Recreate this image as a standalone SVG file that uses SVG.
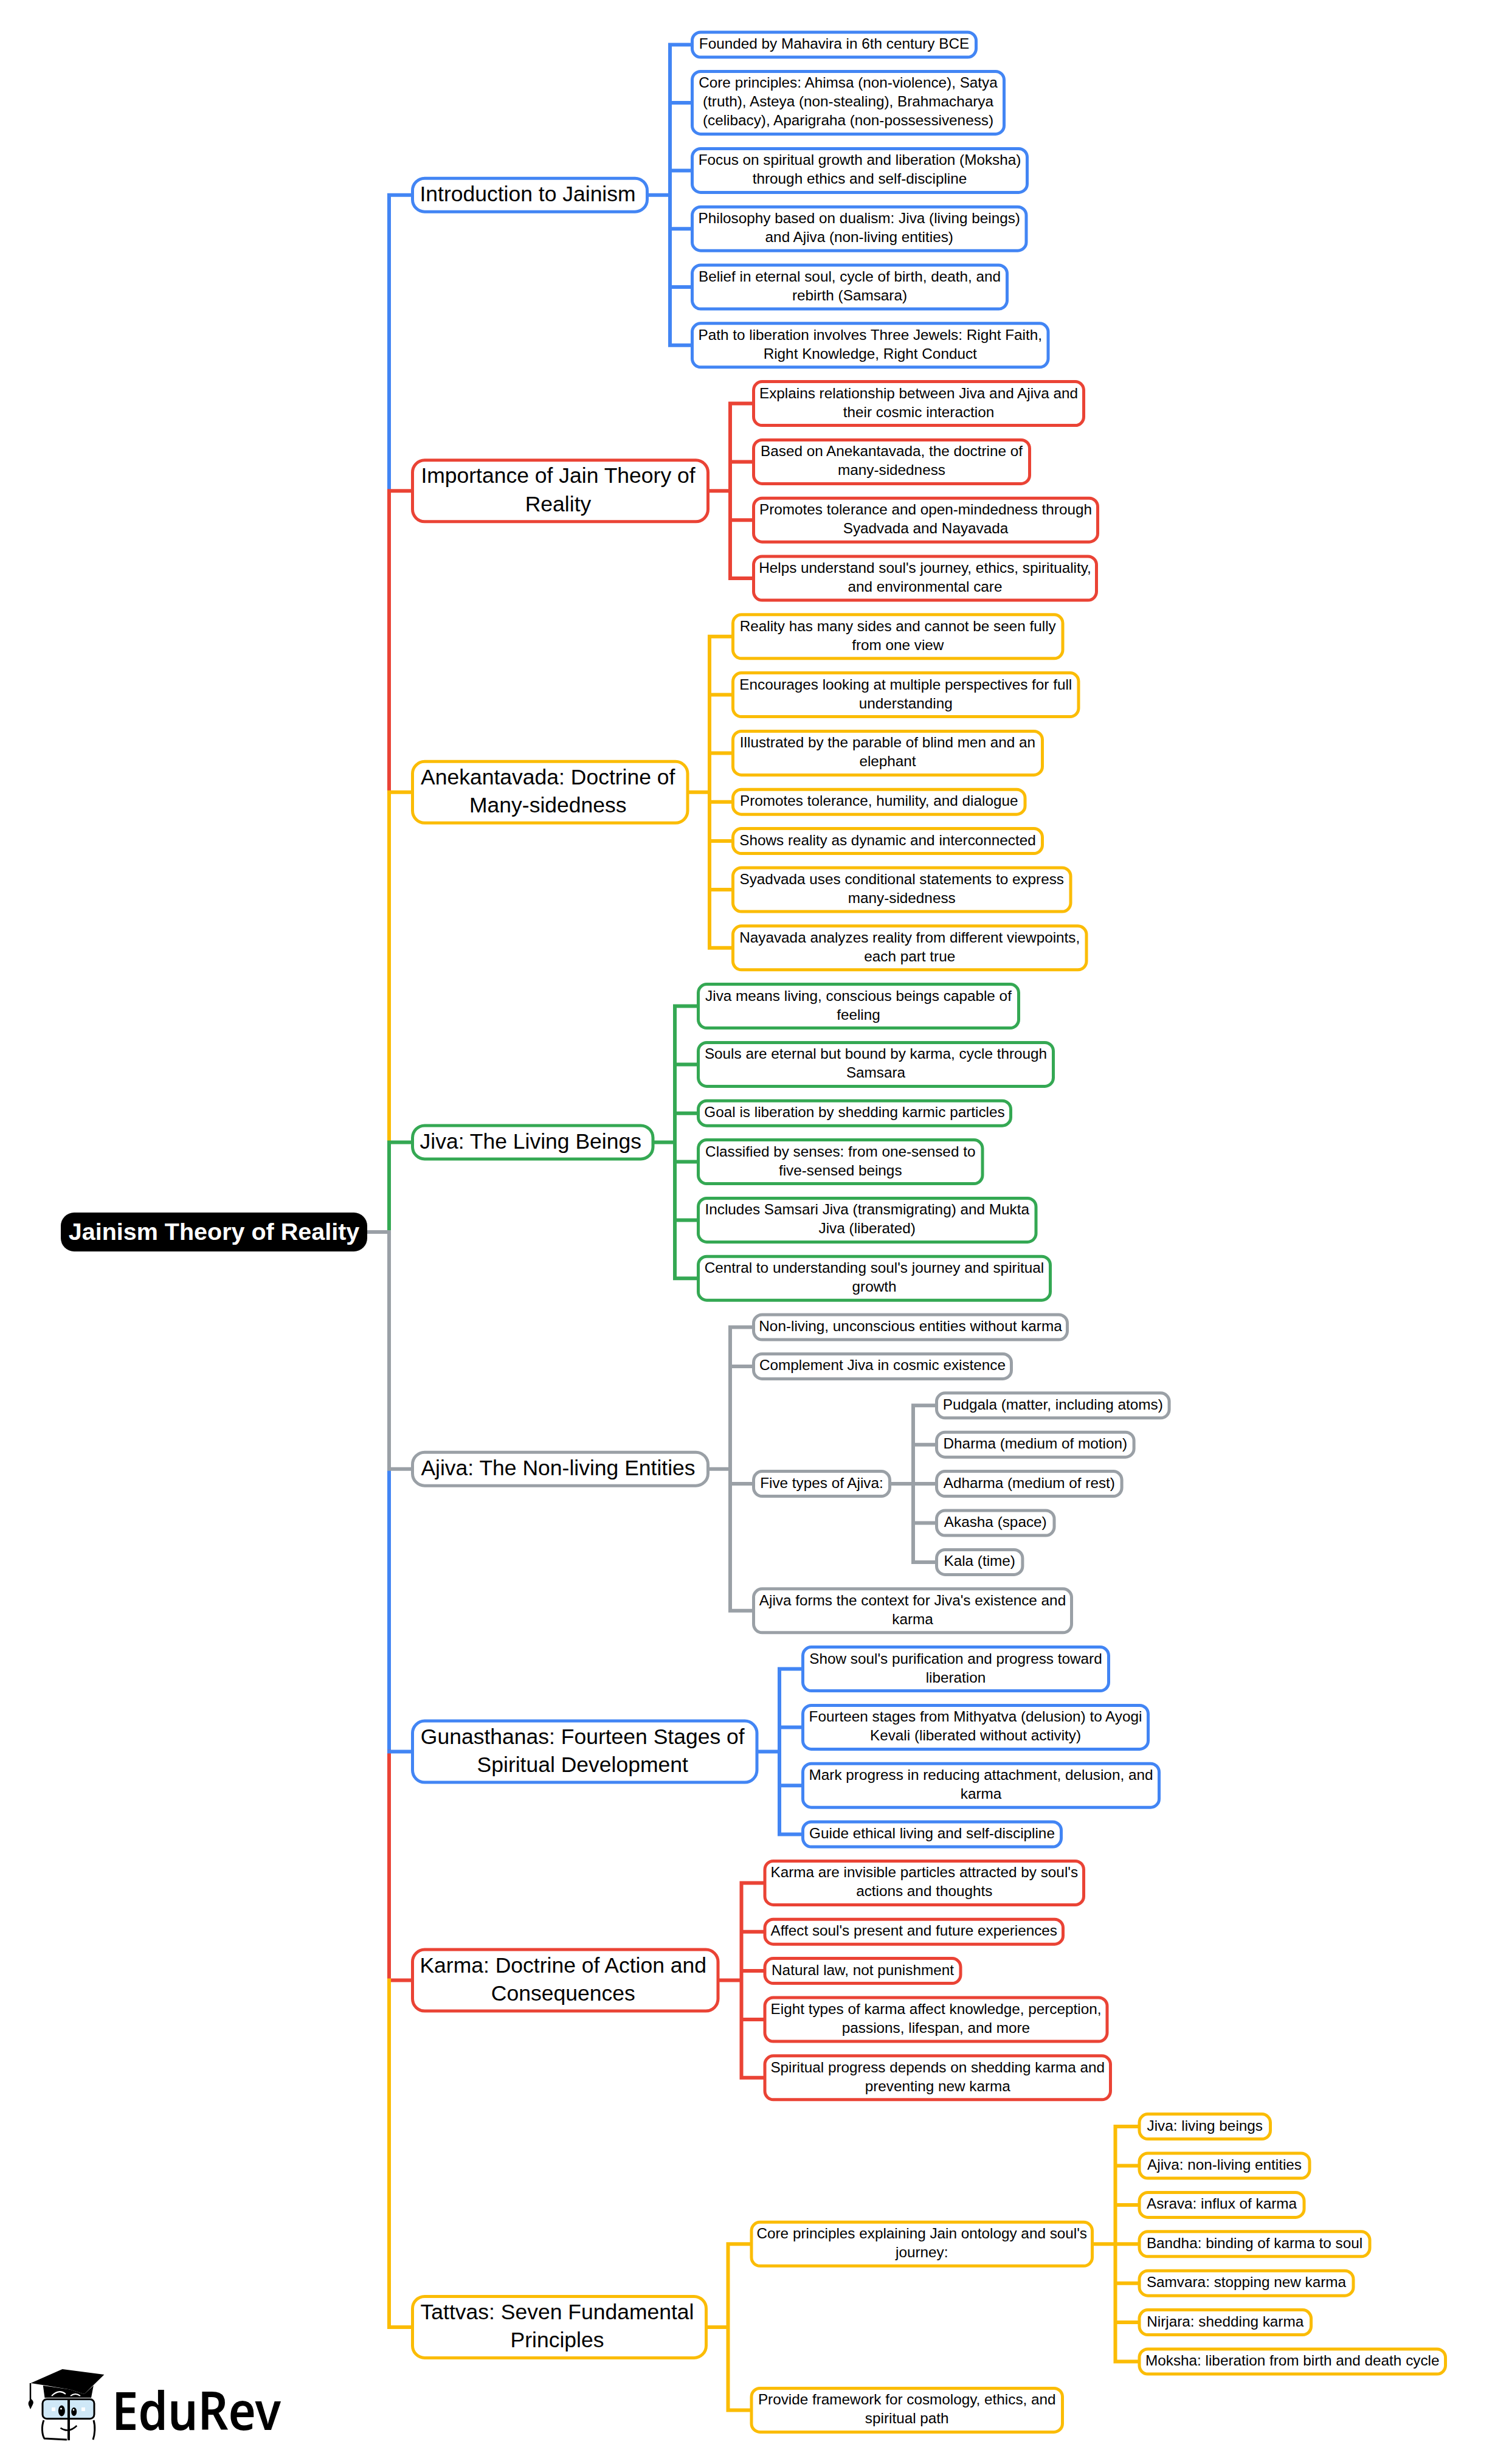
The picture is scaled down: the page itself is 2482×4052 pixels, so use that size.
<svg xmlns="http://www.w3.org/2000/svg" width="2482" height="4052" viewBox="0 0 2482 4052">
<style>
text{font-family:"Liberation Sans",Arial,sans-serif;text-anchor:middle;fill:#000}
.l{font-size:24.3px;transform:translateY(-2px)}
.m{font-size:35.5px;transform:translate(-3.5px,-2px)}
.root{font-size:39.5px;font-weight:700;fill:#fff;transform:translateY(-1px)}
rect.n{fill:#fff;stroke-width:5;rx:14px;ry:14px}
rect.h{fill:#fff;stroke-width:5;rx:20px;ry:20px}
.b{stroke:#4285F4}.r{stroke:#EA4335}.y{stroke:#FBBC05}.g{stroke:#34A853}.k{stroke:#9AA0A6}
path.c{fill:none;stroke-width:6;stroke-linejoin:miter;stroke-linecap:square}
</style>
<rect width="2482" height="4052" fill="#fff"/>
<g id="connectors">
<path class="c b" d="M640 807.3V320.7H676"/>
<path class="c r" d="M640 1302.8V807.3H676"/>
<path class="c y" d="M640 1878.4V1302.8H676"/>
<path class="c g" d="M640 2026V1878.4H676"/>
<path class="c b" d="M640 2880.6V2415.7"/>
<path class="c r" d="M640 3256.6V2880.6"/>
<path class="c b" d="M640 2880.6H676"/>
<path class="c r" d="M640 3256.6H676"/>
<path class="c y" d="M640 3256.6V3826.9H676"/>
<path class="c k" d="M604 2026H640V2415.7H676"/>
<path class="c b" d="M1067 320.7H1102M1102 73.5V567.8M1102 73.5H1136M1102 168.9H1136M1102 280.4H1136M1102 376.2H1136M1102 472H1136M1102 567.8H1136"/>
<path class="c r" d="M1167 807.3H1201M1201 663.6V951M1201 663.6H1237M1201 759.4H1237M1201 855.2H1237M1201 951H1237"/>
<path class="c y" d="M1133.5 1302.8H1167M1167 1046.8V1558.8M1167 1046.8H1203M1167 1142.6H1203M1167 1238.4H1203M1167 1318.7H1203M1167 1383.1H1203M1167 1463H1203M1167 1558.8H1203"/>
<path class="c g" d="M1076.5 1878.4H1110M1110 1654.6V2102.2M1110 1654.6H1146M1110 1750.4H1146M1110 1830.7H1146M1110 1910.6H1146M1110 2006.4H1146M1110 2102.2H1146"/>
<path class="c k" d="M1167 2415.7H1201M1201 2182.5V2648.8M1201 2182.5H1237M1201 2246.9H1237M1201 2440.1H1237M1201 2648.8H1237"/>
<path class="c k" d="M1466 2440.1H1502M1502 2311.3V2568.9M1502 2311.3H1538M1502 2375.7H1538M1502 2440.1H1538M1502 2504.5H1538M1502 2568.9H1538"/>
<path class="c b" d="M1247.5 2880.6H1282M1282 2744.6V3016.5M1282 2744.6H1318M1282 2840.4H1318M1282 2936.2H1318M1282 3016.5H1318"/>
<path class="c r" d="M1183.5 3256.6H1219.5M1219.5 3096.4V3416.8M1219.5 3096.4H1255.5M1219.5 3176.7H1255.5M1219.5 3241.1H1255.5M1219.5 3321H1255.5M1219.5 3416.8H1255.5"/>
<path class="c y" d="M1164 3826.9H1197.5M1197.5 3690.3V3963.4M1197.5 3690.3H1233.5M1197.5 3963.4H1233.5"/>
<path class="c y" d="M1799 3690.3H1834.5M1834.5 3497.1V3883.5M1834.5 3497.1H1871.5M1834.5 3561.5H1871.5M1834.5 3625.9H1871.5M1834.5 3690.3H1871.5M1834.5 3754.7H1871.5M1834.5 3819.1H1871.5M1834.5 3883.5H1871.5"/>
</g>
<g id="root"><rect x="100" y="1994" width="504" height="64" rx="22" ry="22" fill="#000"/><text class="root" x="352" y="2040">Jainism Theory of Reality</text></g>

<g id="intro"><rect class="h b" x="678.5" y="293.2" width="386" height="55"/><text class="m" x="871.5" y="333.2">Introduction to Jainism</text></g>
<g id="intro-1"><rect class="n b" x="1138.5" y="53" width="467" height="41"/><text class="l" x="1372" y="82">Founded by Mahavira in 6th century BCE</text></g>
<g id="intro-2"><rect class="n b" x="1138.5" y="117.4" width="513" height="103"/><text class="l" x="1395" y="146.4">Core principles: Ahimsa (non-violence), Satya</text><text class="l" x="1395" y="177.4">(truth), Asteya (non-stealing), Brahmacharya</text><text class="l" x="1395" y="208.4">(celibacy), Aparigraha (non-possessiveness)</text></g>
<g id="intro-3"><rect class="n b" x="1138.5" y="244.4" width="551" height="72"/><text class="l" x="1414" y="273.4">Focus on spiritual growth and liberation (Moksha)</text><text class="l" x="1414" y="304.4">through ethics and self-discipline</text></g>
<g id="intro-4"><rect class="n b" x="1138.5" y="340.2" width="549.5" height="72"/><text class="l" x="1413.25" y="369.2">Philosophy based on dualism: Jiva (living beings)</text><text class="l" x="1413.25" y="400.2">and Ajiva (non-living entities)</text></g>
<g id="intro-5"><rect class="n b" x="1138.5" y="436" width="518" height="72"/><text class="l" x="1397.5" y="465">Belief in eternal soul, cycle of birth, death, and</text><text class="l" x="1397.5" y="496">rebirth (Samsara)</text></g>
<g id="intro-6"><rect class="n b" x="1138.5" y="531.8" width="585.5" height="72"/><text class="l" x="1431.25" y="560.8">Path to liberation involves Three Jewels: Right Faith,</text><text class="l" x="1431.25" y="591.8">Right Knowledge, Right Conduct</text></g>

<g id="importance"><rect class="h r" x="678.5" y="756.8" width="486" height="101"/><text class="m" x="921.5" y="796.3">Importance of Jain Theory of</text><text class="m" x="921.5" y="842.8">Reality</text></g>
<g id="importance-1"><rect class="n r" x="1239.5" y="627.6" width="543" height="72"/><text class="l" x="1511" y="656.6">Explains relationship between Jiva and Ajiva and</text><text class="l" x="1511" y="687.6">their cosmic interaction</text></g>
<g id="importance-2"><rect class="n r" x="1239.5" y="723.4" width="454" height="72"/><text class="l" x="1466.5" y="752.4">Based on Anekantavada, the doctrine of</text><text class="l" x="1466.5" y="783.4">many-sidedness</text></g>
<g id="importance-3"><rect class="n r" x="1239.5" y="819.2" width="566" height="72"/><text class="l" x="1522.5" y="848.2">Promotes tolerance and open-mindedness through</text><text class="l" x="1522.5" y="879.2">Syadvada and Nayavada</text></g>
<g id="importance-4"><rect class="n r" x="1239.5" y="915" width="564" height="72"/><text class="l" x="1521.5" y="944">Helps understand soul's journey, ethics, spirituality,</text><text class="l" x="1521.5" y="975">and environmental care</text></g>

<g id="anekantavada"><rect class="h y" x="678.5" y="1252.3" width="452.5" height="101"/><text class="m" x="904.75" y="1291.8">Anekantavada: Doctrine of</text><text class="m" x="904.75" y="1338.3">Many-sidedness</text></g>
<g id="anek-1"><rect class="n y" x="1205.5" y="1010.8" width="542.5" height="72"/><text class="l" x="1476.75" y="1039.8">Reality has many sides and cannot be seen fully</text><text class="l" x="1476.75" y="1070.8">from one view</text></g>
<g id="anek-2"><rect class="n y" x="1205.5" y="1106.6" width="568.5" height="72"/><text class="l" x="1489.75" y="1135.6">Encourages looking at multiple perspectives for full</text><text class="l" x="1489.75" y="1166.6">understanding</text></g>
<g id="anek-3"><rect class="n y" x="1205.5" y="1202.4" width="509" height="72"/><text class="l" x="1460" y="1231.4">Illustrated by the parable of blind men and an</text><text class="l" x="1460" y="1262.4">elephant</text></g>
<g id="anek-4"><rect class="n y" x="1205.5" y="1298.2" width="480.5" height="41"/><text class="l" x="1445.75" y="1327.2">Promotes tolerance, humility, and dialogue</text></g>
<g id="anek-5"><rect class="n y" x="1205.5" y="1362.6" width="509" height="41"/><text class="l" x="1460" y="1391.6">Shows reality as dynamic and interconnected</text></g>
<g id="anek-6"><rect class="n y" x="1205.5" y="1427" width="555.5" height="72"/><text class="l" x="1483.25" y="1456">Syadvada uses conditional statements to express</text><text class="l" x="1483.25" y="1487">many-sidedness</text></g>
<g id="anek-7"><rect class="n y" x="1205.5" y="1522.8" width="581.5" height="72"/><text class="l" x="1496.25" y="1551.8">Nayavada analyzes reality from different viewpoints,</text><text class="l" x="1496.25" y="1582.8">each part true</text></g>

<g id="jiva"><rect class="h g" x="678.5" y="1850.9" width="395.5" height="55"/><text class="m" x="876.25" y="1890.9">Jiva: The Living Beings</text></g>
<g id="jiva-1"><rect class="n g" x="1148.5" y="1618.6" width="527" height="72"/><text class="l" x="1412" y="1647.6">Jiva means living, conscious beings capable of</text><text class="l" x="1412" y="1678.6">feeling</text></g>
<g id="jiva-2"><rect class="n g" x="1148.5" y="1714.4" width="584" height="72"/><text class="l" x="1440.5" y="1743.4">Souls are eternal but bound by karma, cycle through</text><text class="l" x="1440.5" y="1774.4">Samsara</text></g>
<g id="jiva-3"><rect class="n g" x="1148.5" y="1810.2" width="514" height="41"/><text class="l" x="1405.5" y="1839.2">Goal is liberation by shedding karmic particles</text></g>
<g id="jiva-4"><rect class="n g" x="1148.5" y="1874.6" width="467.5" height="72"/><text class="l" x="1382.25" y="1903.6">Classified by senses: from one-sensed to</text><text class="l" x="1382.25" y="1934.6">five-sensed beings</text></g>
<g id="jiva-5"><rect class="n g" x="1148.5" y="1970.4" width="555.5" height="72"/><text class="l" x="1426.25" y="1999.4">Includes Samsari Jiva (transmigrating) and Mukta</text><text class="l" x="1426.25" y="2030.4">Jiva (liberated)</text></g>
<g id="jiva-6"><rect class="n g" x="1148.5" y="2066.2" width="579" height="72"/><text class="l" x="1438" y="2095.2">Central to understanding soul's journey and spiritual</text><text class="l" x="1438" y="2126.2">growth</text></g>

<g id="ajiva"><rect class="h k" x="678.5" y="2388.2" width="486" height="55"/><text class="m" x="921.5" y="2428.2">Ajiva: The Non-living Entities</text></g>
<g id="ajiva-1"><rect class="n k" x="1239.5" y="2162" width="516" height="41"/><text class="l" x="1497.5" y="2191">Non-living, unconscious entities without karma</text></g>
<g id="ajiva-2"><rect class="n k" x="1239.5" y="2226.4" width="424" height="41"/><text class="l" x="1451.5" y="2255.4">Complement Jiva in cosmic existence</text></g>
<g id="ajiva-3"><rect class="n k" x="1239.5" y="2419.6" width="224" height="41"/><text class="l" x="1351.5" y="2448.6">Five types of Ajiva:</text></g>
<g id="ajiva-3-1"><rect class="n k" x="1540.5" y="2290.8" width="382.6" height="41"/><text class="l" x="1731.8" y="2319.8">Pudgala (matter, including atoms)</text></g>
<g id="ajiva-3-2"><rect class="n k" x="1540.5" y="2355.2" width="324.6" height="41"/><text class="l" x="1702.8" y="2384.2">Dharma (medium of motion)</text></g>
<g id="ajiva-3-3"><rect class="n k" x="1540.5" y="2419.6" width="304.6" height="41"/><text class="l" x="1692.8" y="2448.6">Adharma (medium of rest)</text></g>
<g id="ajiva-3-4"><rect class="n k" x="1540.5" y="2484" width="193.5" height="41"/><text class="l" x="1637.25" y="2513">Akasha (space)</text></g>
<g id="ajiva-3-5"><rect class="n k" x="1540.5" y="2548.4" width="141.4" height="41"/><text class="l" x="1611.2" y="2577.4">Kala (time)</text></g>
<g id="ajiva-4"><rect class="n k" x="1239.5" y="2612.8" width="523" height="72"/><text class="l" x="1501" y="2641.8">Ajiva forms the context for Jiva's existence and</text><text class="l" x="1501" y="2672.8">karma</text></g>

<g id="gunasthanas"><rect class="h b" x="678.5" y="2830.1" width="566.5" height="101"/><text class="m" x="961.75" y="2869.6">Gunasthanas: Fourteen Stages of</text><text class="m" x="961.75" y="2916.1">Spiritual Development</text></g>
<g id="guna-1"><rect class="n b" x="1320.5" y="2708.6" width="503" height="72"/><text class="l" x="1572" y="2737.6">Show soul's purification and progress toward</text><text class="l" x="1572" y="2768.6">liberation</text></g>
<g id="guna-2"><rect class="n b" x="1320.5" y="2804.4" width="568" height="72"/><text class="l" x="1604.5" y="2833.4">Fourteen stages from Mithyatva (delusion) to Ayogi</text><text class="l" x="1604.5" y="2864.4">Kevali (liberated without activity)</text></g>
<g id="guna-3"><rect class="n b" x="1320.5" y="2900.2" width="586" height="72"/><text class="l" x="1613.5" y="2929.2">Mark progress in reducing attachment, delusion, and</text><text class="l" x="1613.5" y="2960.2">karma</text></g>
<g id="guna-4"><rect class="n b" x="1320.5" y="2996" width="425" height="41"/><text class="l" x="1533" y="3025">Guide ethical living and self-discipline</text></g>

<g id="karma"><rect class="h r" x="678.5" y="3206.1" width="502.5" height="101"/><text class="m" x="929.75" y="3245.6">Karma: Doctrine of Action and</text><text class="m" x="929.75" y="3292.1">Consequences</text></g>
<g id="karma-1"><rect class="n r" x="1258" y="3060.4" width="524.5" height="72"/><text class="l" x="1520.25" y="3089.4">Karma are invisible particles attracted by soul's</text><text class="l" x="1520.25" y="3120.4">actions and thoughts</text></g>
<g id="karma-2"><rect class="n r" x="1258" y="3156.2" width="490.5" height="41"/><text class="l" x="1503.25" y="3185.2">Affect soul's present and future experiences</text></g>
<g id="karma-3"><rect class="n r" x="1258" y="3220.6" width="322" height="41"/><text class="l" x="1419" y="3249.6">Natural law, not punishment</text></g>
<g id="karma-4"><rect class="n r" x="1258" y="3285" width="563" height="72"/><text class="l" x="1539.5" y="3314">Eight types of karma affect knowledge, perception,</text><text class="l" x="1539.5" y="3345">passions, lifespan, and more</text></g>
<g id="karma-5"><rect class="n r" x="1258" y="3380.8" width="568.5" height="72"/><text class="l" x="1542.25" y="3409.8">Spiritual progress depends on shedding karma and</text><text class="l" x="1542.25" y="3440.8">preventing new karma</text></g>

<g id="tattvas"><rect class="h y" x="678.5" y="3776.4" width="483" height="101"/><text class="m" x="920" y="3815.9">Tattvas: Seven Fundamental</text><text class="m" x="920" y="3862.4">Principles</text></g>
<g id="tattvas-1"><rect class="n y" x="1236" y="3654.3" width="560.5" height="72"/><text class="l" x="1516.25" y="3683.3">Core principles explaining Jain ontology and soul's</text><text class="l" x="1516.25" y="3714.3">journey:</text></g>
<g id="tattvas-1-1"><rect class="n y" x="1874" y="3476.6" width="215.5" height="41"/><text class="l" x="1981.75" y="3505.6">Jiva: living beings</text></g>
<g id="tattvas-1-2"><rect class="n y" x="1874" y="3541" width="280" height="41"/><text class="l" x="2014" y="3570">Ajiva: non-living entities</text></g>
<g id="tattvas-1-3"><rect class="n y" x="1874" y="3605.4" width="271" height="41"/><text class="l" x="2009.5" y="3634.4">Asrava: influx of karma</text></g>
<g id="tattvas-1-4"><rect class="n y" x="1874" y="3669.8" width="379" height="41"/><text class="l" x="2063.5" y="3698.8">Bandha: binding of karma to soul</text></g>
<g id="tattvas-1-5"><rect class="n y" x="1874" y="3734.2" width="352" height="41"/><text class="l" x="2050" y="3763.2">Samvara: stopping new karma</text></g>
<g id="tattvas-1-6"><rect class="n y" x="1874" y="3798.6" width="282.5" height="41"/><text class="l" x="2015.25" y="3827.6">Nirjara: shedding karma</text></g>
<g id="tattvas-1-7"><rect class="n y" x="1874" y="3863" width="503.5" height="41"/><text class="l" x="2125.75" y="3892">Moksha: liberation from birth and death cycle</text></g>
<g id="tattvas-2"><rect class="n y" x="1236" y="3927.4" width="511.5" height="72"/><text class="l" x="1491.75" y="3956.4">Provide framework for cosmology, ethics, and</text><text class="l" x="1491.75" y="3987.4">spiritual path</text></g>

<g id="logo" transform="translate(0,-8)">
<polygon points="70.8,3931 73.5,3951 150,3951 153.8,3931 138.5,3945 115,3937.5" fill="#000"/>
<polygon points="50.5,3927 102.6,3904 171.4,3913 138.5,3945 115,3937.5 76.5,3931" fill="#000"/>
<path d="M50 3927V3955" stroke="#000" stroke-width="2.5" fill="none"/>
<path d="M51 3953C47 3956 46 3960 47 3963L50 3970L54 3962C56 3958 54 3955 51 3953Z" fill="#000"/>
<path d="M85 3948Q97 3936 108 3945M116 3948Q124 3942 132 3948" stroke="#fff" stroke-width="2" fill="none"/>
<rect x="70" y="3953.5" width="85" height="32" rx="7" fill="#cfe8f7" stroke="#000" stroke-width="3"/>
<path d="M72 3988C68 3998 69 4012 73 4018L110 4020M154 3988C157 3998 156 4012 153 4020" stroke="#000" stroke-width="3" fill="none"/>
<path d="M113 3952V4021" stroke="#000" stroke-width="4" fill="none"/>
<ellipse cx="101.4" cy="3972.5" rx="5.5" ry="9" fill="#000"/>
<ellipse cx="121.7" cy="3974" rx="4.5" ry="7" fill="#000"/>
<circle cx="100.5" cy="3969" r="1.6" fill="#fff"/>
<circle cx="121" cy="3971" r="1.4" fill="#fff"/>
<rect x="85" y="3967" width="6" height="6" fill="#fff"/>
<rect x="134" y="3967" width="6" height="6" fill="#fff"/>
<path d="M99.5 4000.7Q113 4010 126.3 3997" stroke="#000" stroke-width="2.5" fill="none"/>
<text x="184" y="4004" font-size="87" textLength="278" lengthAdjust="spacingAndGlyphs" style="font-family:'Noto Sans',sans-serif;font-weight:600;text-anchor:start">EduRev</text>
</g>
</svg>
